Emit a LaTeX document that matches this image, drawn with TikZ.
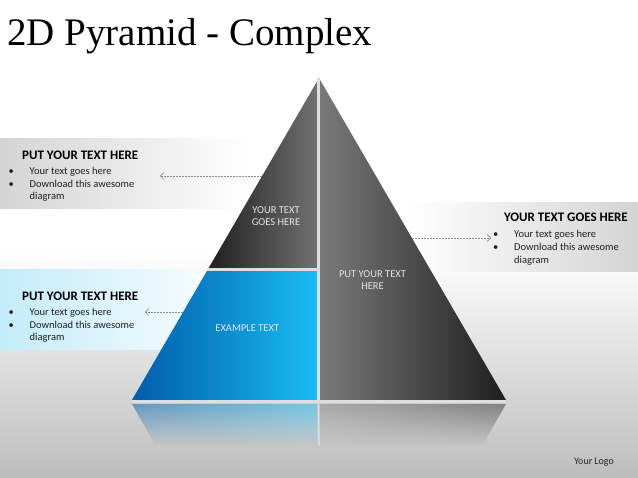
\documentclass[tikz,border=0pt]{standalone}
\usepackage{fontspec}
\setmainfont{Carlito}
\newfontfamily\titlefont{Liberation Serif}
\usetikzlibrary{fadings,arrows.meta}
\definecolor{blueA}{RGB}{0,92,172}
\definecolor{blueB}{RGB}{26,188,245}
\definecolor{lightblue}{RGB}{196,236,250}
\definecolor{gapcol}{RGB}{222,222,222}
\definecolor{lbl}{RGB}{228,228,228}
\newcommand{\bul}{\makebox[21pt][l]{\textbullet}}
\begin{document}
\begin{tikzpicture}[x=1pt,y=-1pt,
  conn/.style={draw=black!45, dash pattern=on 2pt off 1pt, line width=0.6pt, -{Straight Barb[length=3.5pt,width=7pt,line width=0.6pt]}},
  head/.style={font=\fontsize{13}{15}\selectfont\bfseries, text=black, inner sep=0},
  body/.style={font=\fontsize{10.5}{12.8}\selectfont, text=black!88, inner sep=0},
  plabel/.style={font=\fontsize{10.5}{12.7}\selectfont, text=lbl, align=center, inner sep=0}]
\useasboundingbox (0,0) rectangle (638,478);
% background
\fill[white] (0,0) rectangle (638,478);
\shade[top color=white, bottom color=black!26] (0,250) rectangle (638,478);
% text boxes
\shade[left color=black!17, middle color=black!10, right color=white] (0,139) rectangle (250,209);
\shade[left color=lightblue, middle color=lightblue!60, right color=white] (0,270) rectangle (250,350);
\shade[left color=white, middle color=black!7, right color=black!17] (410,203) rectangle (638,272);
% pyramid
\shade[left color=black!88, right color=black!55] (319,78) -- (208.1,269) -- (319,269) -- cycle;
\shade[left color=blueA, right color=blueB] (208.1,269) -- (319,269) -- (319,400) -- (132,400) -- cycle;
\shade[left color=black!52, right color=black!88] (319,78) -- (506,400) -- (319,400) -- cycle;
\draw[gapcol, line width=2.4pt] (318.5,79) -- (318.5,401);
\draw[gapcol, line width=2.4pt] (207,269.5) -- (318.5,269.5);
\fill[gapcol] (132,400) rectangle (506,403.5);
% reflection
\shade[left color=blueA, right color=blueB, opacity=0.5, path fading=south]
  (132,404) -- (317.5,404) -- (317.5,446) -- (156,446) -- cycle;
\shade[left color=black!52, right color=black!88, opacity=0.45, path fading=south]
  (319.5,404) -- (506,404) -- (482,446) -- (319.5,446) -- cycle;
\fill[white, opacity=0.35] (317.5,404) rectangle (319.5,446);
% title
\node[anchor=base west, inner sep=0, font=\titlefont\fontsize{39}{39}\selectfont] (title) at (7,46) {2D Pyramid - Complex};
% box 1
\node[head, anchor=base west] (h1) at (22,159.5) {PUT YOUR TEXT HERE};
\node[body, anchor=base west] (t1) at (8.5,174.3) {\begin{tabular}[t]{@{}l@{}}\bul Your text goes here\\ \bul Download this awesome\\ \hspace{21pt}diagram\end{tabular}};
% box 2
\node[head, anchor=base west] (h2) at (22,300.6) {PUT YOUR TEXT HERE};
\node[body, anchor=base west] (t2) at (8.5,315.3) {\begin{tabular}[t]{@{}l@{}}\bul Your text goes here\\ \bul Download this awesome\\ \hspace{21pt}diagram\end{tabular}};
% box 3
\node[head, anchor=base east] (h3) at (628,221.7) {YOUR TEXT GOES HERE};
\node[body, anchor=base west] (t3) at (493,237.5) {\begin{tabular}[t]{@{}l@{}}\bul Your text goes here\\ \bul Download this awesome\\ \hspace{21pt}diagram\end{tabular}};
% pyramid labels
\node[plabel] (l1) at (276,216) {YOUR TEXT\\GOES HERE};
\node[plabel] (l2) at (372.5,280) {PUT YOUR TEXT\\HERE};
\node[plabel, text=white!90!blue] (l3) at (247.3,328.3) {EXAMPLE TEXT};
\node[font=\fontsize{10}{12}\selectfont, text=black!85, inner sep=0] (logo) at (594,461.7) {Your Logo};
% connectors
\coordinate (a1s) at (262,176);
\coordinate (a1e) at (160,176);
\coordinate (a2s) at (183,312);
\coordinate (a2e) at (145,312);
\coordinate (a3s) at (412,238);
\coordinate (a3e) at (491,238);
\draw[conn] (a1s) -- (a1e);
\draw[conn] (a2s) -- (a2e);
\draw[conn] (a3s) -- (a3e);
\end{tikzpicture}
\end{document}
